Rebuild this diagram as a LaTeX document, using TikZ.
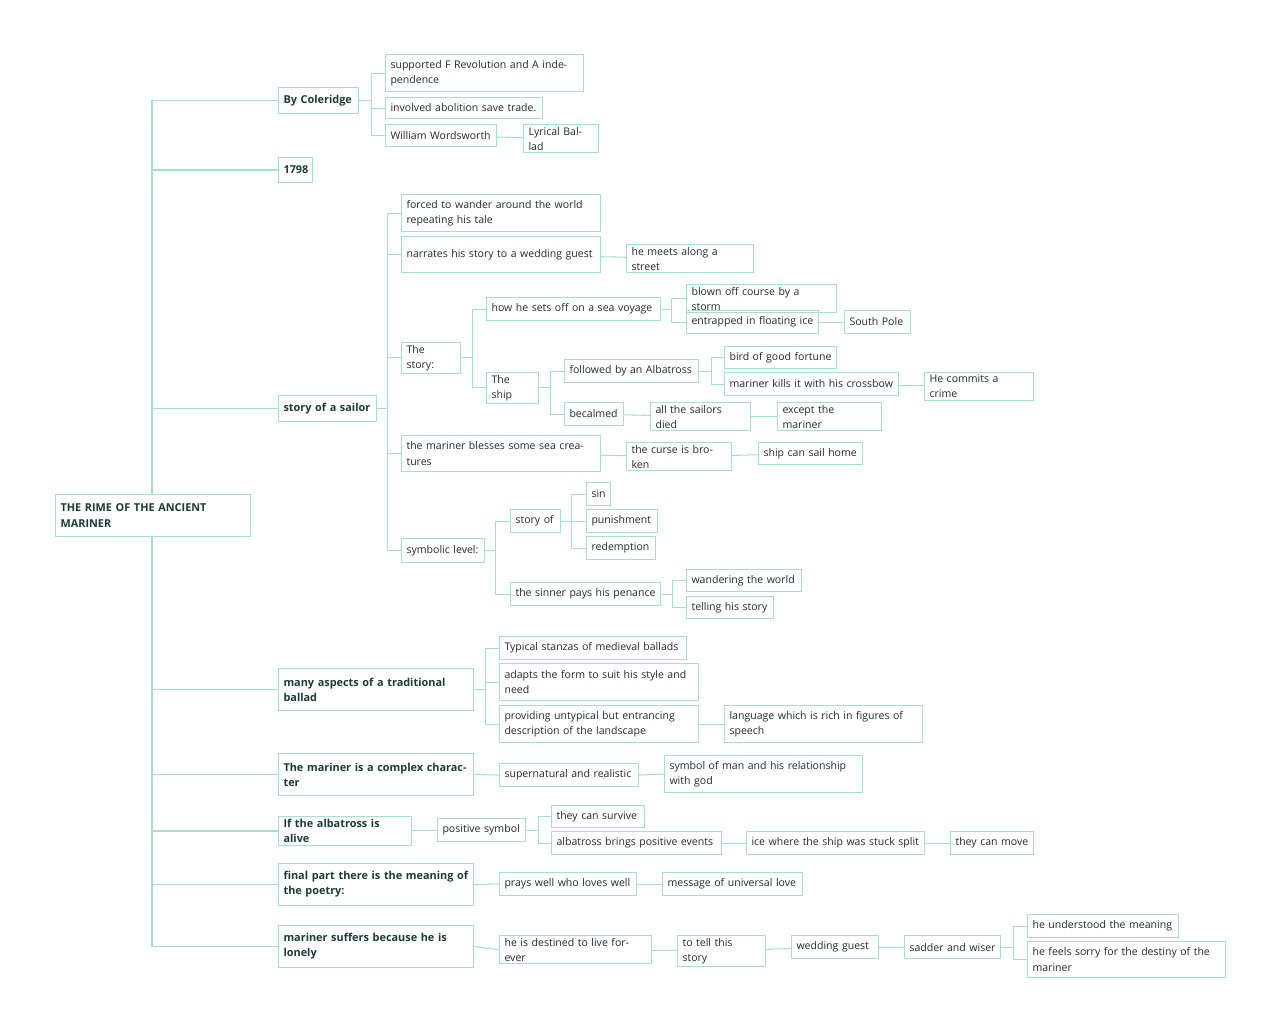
\documentclass[tikz,border=0pt]{standalone}
\usepackage{fontspec}
\setmainfont{Open Sans}
\definecolor{mapline}{HTML}{A6DDD4}
\definecolor{maptext}{HTML}{222A2A}
\definecolor{maphead}{HTML}{1B3A37}
\tikzset{
  mapbox/.style={draw=mapline, line width=0.6pt, align=left, inner xsep=0.1cm, inner ysep=0.05cm,
    font=\fontsize{6}{8.6}\selectfont, text=maptext, anchor=north west},
  headbox/.style={mapbox, font=\fontsize{6.2}{8.6}\selectfont\bfseries, text=maphead},
  conn/.style={draw=mapline, line width=0.6pt},
  trunk/.style={draw=mapline, line width=1pt}
}
% box from its corners, in pixels
\newcommand\mm[7][mapbox]{%
  \pgfmathsetmacro\tw{(#5-#3-10)*0.02}%
  \pgfmathsetmacro\th{(#6-#4)*0.02}%
  \node[#1, text width=\tw cm, minimum height=\th cm] (#2) at (#3,#4) {#7};}
% parent to child through a spine
\newcommand\lnk[3]{\draw[conn] (#1.east) -- ++(#3,0) |- (#2.west);}
\begin{document}
\begin{tikzpicture}[x=0.02cm,y=-0.02cm]
\useasboundingbox (0,0) rectangle (1280,1032);

% Root and main branches
\mm[headbox]{root}{55}{494}{250}{536}{THE RIME OF THE ANCIENT MARINER}
\mm[headbox]{cole}{278}{87}{358}{113}{By Coleridge}
\mm[headbox]{year}{278}{157}{312}{182}{1798}
\mm[headbox]{sailor}{278}{395}{376}{421}{story of a sailor}
\mm[headbox]{aspects}{278}{668}{473}{710}{many aspects of a traditional ballad}
\mm[headbox]{complex}{278}{753}{473}{795}{The mariner is a complex character}
\mm[headbox]{alive}{278}{816}{411}{842}{If the albatross is alive}
\mm[headbox]{final}{278}{863}{473}{905}{final part there is the meaning of the poetry:}
\mm[headbox]{suffers}{278}{925}{473}{967}{mariner suffers because he is lonely}

\coordinate (tk) at (152,0);
\foreach \c in {cole,year,sailor}
  \draw[trunk] (root.north -| tk) |- (\c.west);
\foreach \c in {aspects,complex,alive,final,suffers}
  \draw[trunk] (root.south -| tk) |- (\c.west);

% By Coleridge
\mm{sup}{385}{54}{583}{91}{supported F Revolution and A independence}
\mm{abol}{385}{97}{542}{118}{involved abolition save trade.}
\mm{ww}{385}{124}{496}{146}{William Wordsworth}
\mm{lyr}{523}{124}{598}{146}{Lyrical Ballad}
\foreach \c in {sup,abol,ww} {\lnk{cole}{\c}{12}}
\draw[conn] (ww) -- (lyr);

% story of a sailor
\mm{forced}{401}{194}{600}{231}{forced to wander around the world repeating his tale}
\mm{narr}{401}{236}{600}{272}{narrates his story to a wedding guest}
\mm{meets}{626}{244}{753}{266}{he meets along a street}
\mm{story}{401}{342}{460}{366}{The story:}
\mm{bless}{401}{435}{600}{471}{the mariner blesses some sea creatures}
\mm{curse}{626}{442}{731}{464}{the curse is broken}
\mm{home}{758}{442}{862}{464}{ship can sail home}
\mm{symb}{401}{538}{484}{562}{symbolic level:}
\foreach \c in {forced,narr,story,bless,symb} {\lnk{sailor}{\c}{10}}
\draw[conn] (narr) -- (meets);
\draw[conn] (bless) -- (curse);
\draw[conn] (curse) -- (home);

% The story
\mm{voyage}{486}{297}{660}{320}{how he sets off on a sea voyage}
\mm{ship}{486}{372}{538}{395}{The ship}
\foreach \c in {voyage,ship} {\lnk{story}{\c}{11}}
\mm{blown}{686}{284}{836}{306}{blown off course by a storm}
\mm{ice}{686}{310}{818}{333}{entrapped in floating ice}
\mm{pole}{844}{310}{910}{333}{South Pole}
\foreach \c in {blown,ice} {\lnk{voyage}{\c}{10}}
\draw[conn] (ice) -- (pole);
\mm{alba}{564}{359}{698}{382}{followed by an Albatross}
\mm{calm}{564}{402}{623}{425}{becalmed}
\mm{died}{650}{402}{750}{425}{all the sailors died}
\mm{except}{777}{402}{881}{425}{except the mariner}
\foreach \c in {alba,calm} {\lnk{ship}{\c}{11}}
\draw[conn] (calm) -- (died);
\draw[conn] (died) -- (except);
\mm{good}{724}{346}{836}{368}{bird of good fortune}
\mm{kills}{724}{372}{898}{395}{mariner kills it with his crossbow}
\mm{crime}{924}{372}{1033}{395}{He commits a crime}
\foreach \c in {good,kills} {\lnk{alba}{\c}{12}}
\draw[conn] (kills) -- (crime);

% symbolic level
\mm{storyof}{510}{509}{560}{532}{story of}
\mm{penance}{510}{582}{660}{605}{the sinner pays his penance}
\foreach \c in {storyof,penance} {\lnk{symb}{\c}{10}}
\mm{sin}{586}{482}{610}{505}{sin}
\mm{pun}{586}{509}{657}{532}{punishment}
\mm{red}{586}{536}{655}{559}{redemption}
\foreach \c in {sin,pun,red} {\lnk{storyof}{\c}{10}}
\mm{wand}{686}{569}{801}{591}{wandering the world}
\mm{tell}{686}{596}{773}{618}{telling his story}
\foreach \c in {wand,tell} {\lnk{penance}{\c}{11}}

% traditional ballad
\mm{typ}{499}{636}{686}{659}{Typical stanzas of medieval ballads}
\mm{adapts}{499}{663}{698}{700}{adapts the form to suit his style and need}
\mm{prov}{499}{705}{698}{742}{providing untypical but entrancing description of the landscape}
\mm{lang}{724}{705}{922}{742}{language which is rich in figures of speech}
\foreach \c in {typ,adapts,prov} {\lnk{aspects}{\c}{11}}
\draw[conn] (prov) -- (lang);

% complex character
\mm{super}{499}{763}{638}{786}{supernatural and realistic}
\mm{symman}{664}{755}{862}{792}{symbol of man and his relationship with god}
\draw[conn] (complex.east) -- (super.west);
\draw[conn] (super.east) -- (symman.west);

% albatross alive
\mm{pos}{437}{818}{525}{841}{positive symbol}
\mm{surv}{551}{805}{644}{827}{they can survive}
\mm{brings}{551}{831}{721}{854}{albatross brings positive events}
\mm{split}{746}{831}{924}{854}{ice where the ship was stuck split}
\mm{move}{950}{831}{1033}{854}{they can move}
\draw[conn] (alive) -- (pos);
\foreach \c in {surv,brings} {\lnk{pos}{\c}{12}}
\draw[conn] (brings) -- (split);
\draw[conn] (split) -- (move);

% final part
\mm{prays}{499}{872}{636}{895}{prays well who loves well}
\mm{msg}{662}{872}{802}{895}{message of universal love}
\draw[conn] (final.east) -- (prays.west);
\draw[conn] (prays) -- (msg);

% lonely
\mm{dest}{499}{935}{651}{958}{he is destined to live forever}
\mm{tell2}{677}{935}{765}{958}{to tell this story}
\mm{wg}{791}{935}{878}{958}{wedding guest}
\mm{sw}{904}{935}{1000}{958}{sadder and wiser}
\mm{und}{1027}{914}{1178}{937}{he understood the meaning}
\mm{sorry}{1027}{941}{1225}{977}{he feels sorry for the destiny of the mariner}
\draw[conn] (suffers.east) -- (dest.west);
\draw[conn] (dest) -- (tell2);
\draw[conn] (tell2) -- (wg);
\draw[conn] (wg) -- (sw);
\foreach \c in {und,sorry} {\lnk{sw}{\c}{12}}
\end{tikzpicture}
\end{document}
